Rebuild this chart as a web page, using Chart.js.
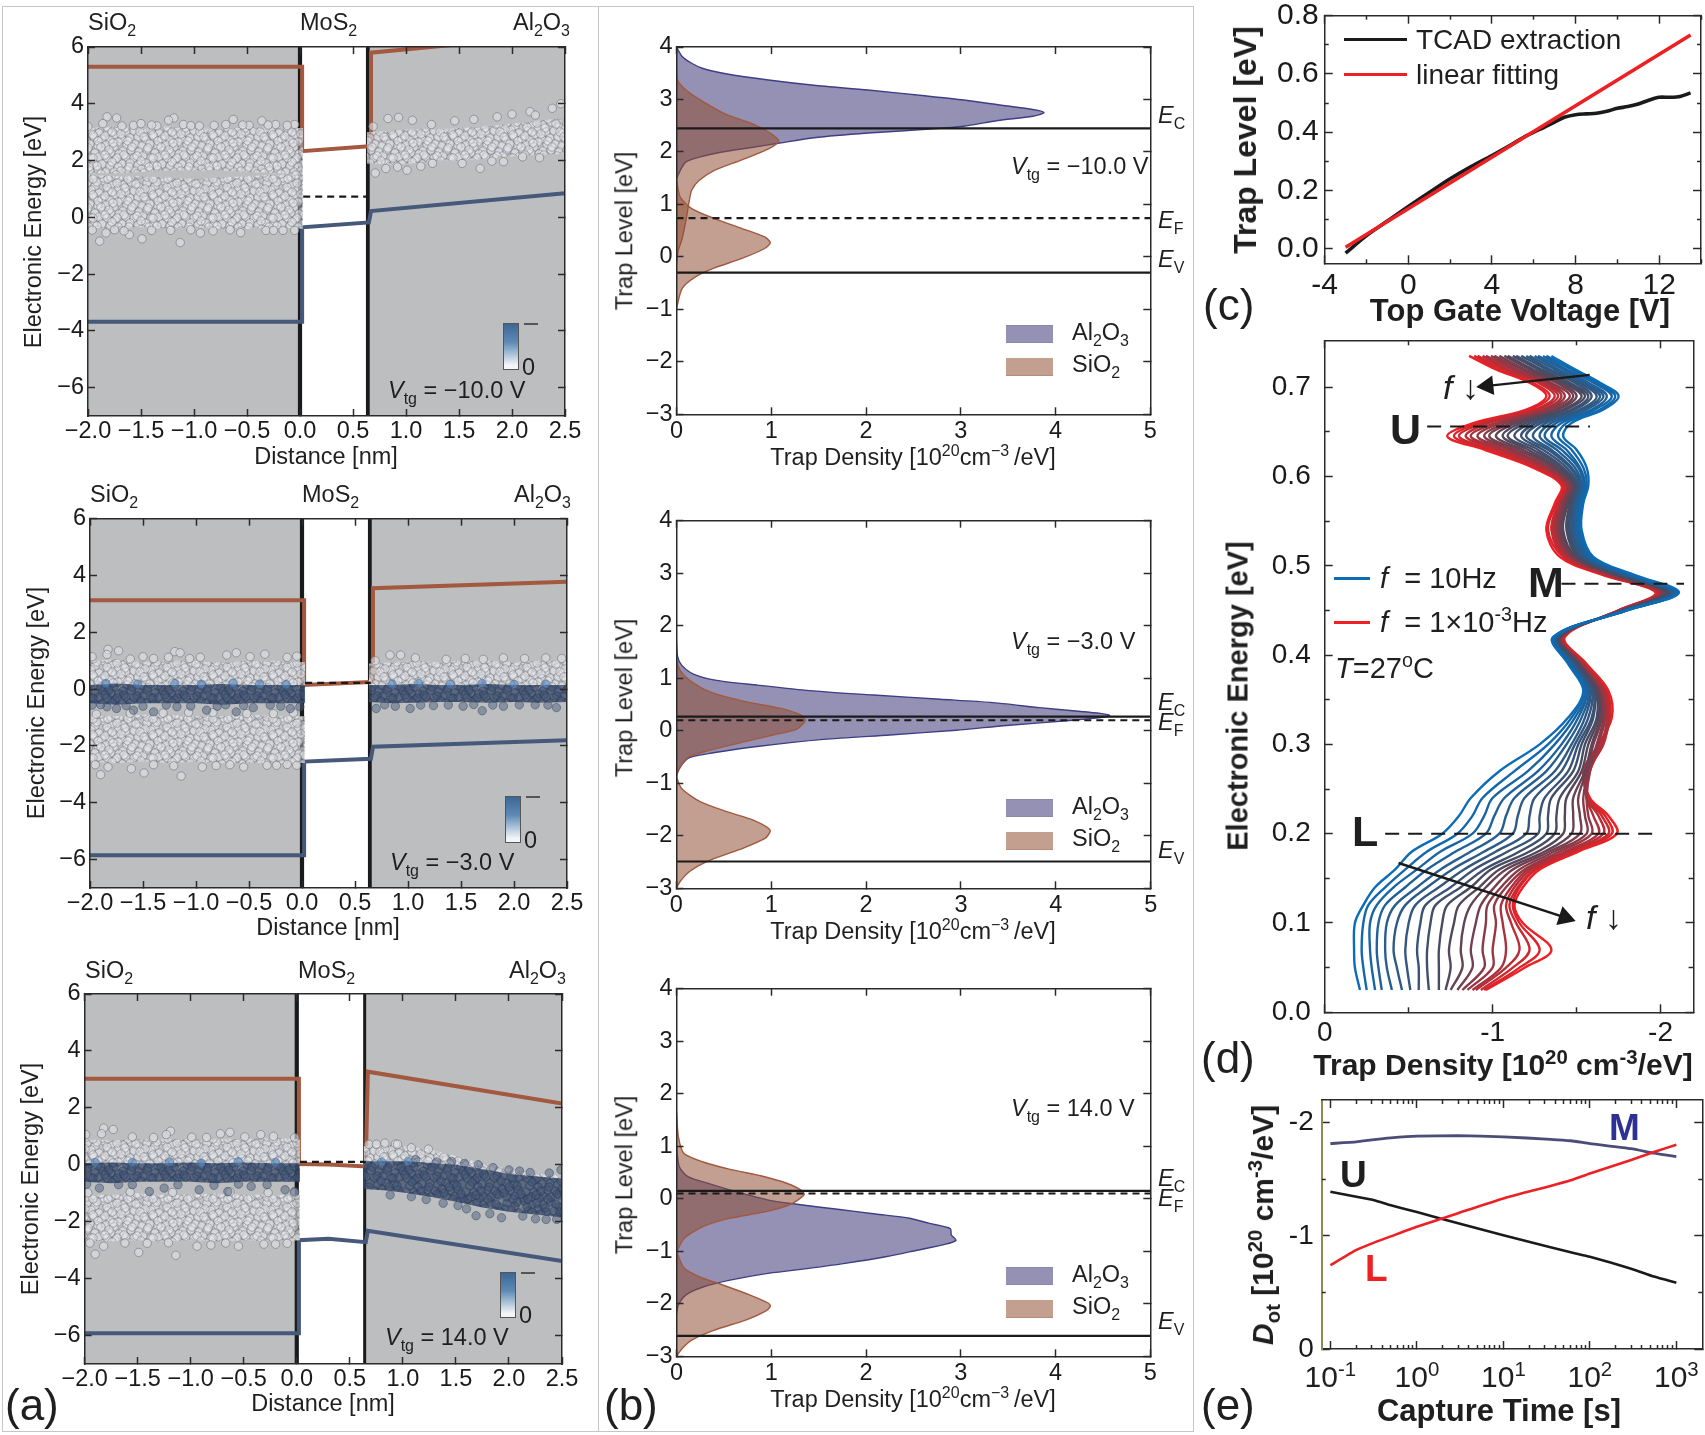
<!DOCTYPE html>
<html>
<head>
<meta charset="utf-8">
<title>MoS2 trap levels</title>
<script src="https://cdn.jsdelivr.net/npm/chart.js@4"></script>
<style>
  html, body { margin: 0; background: #fff; }
  #page { position: relative; width: 1705px; height: 1435px; overflow: hidden; font-family: 'Liberation Sans', sans-serif; color: #1f1f1f; }
  #page canvas { position: absolute; left: 0; top: 0; }
  .txt { position: absolute; line-height: 1; white-space: nowrap; }
  .txt sub, .txt sup { font-size: 68%; line-height: 0; }
  .frame { position: absolute; border: 1px solid #c6c6c6; box-sizing: border-box; }
</style>
</head>
<body>
<div id="page"></div>
<script>
// ---- band diagrams (a): lines are [distance nm, energy eV]
const distanceTicks = [-2, -1.5, -1, -0.5, 0, 0.5, 1, 1.5, 2, 2.5];
const energyTicks = [-6, -4, -2, 0, 2, 4, 6];
const sio2X = [-2, -1.75, -1.5, -1.25, -1, -0.75, -0.5, -0.25, 0.03];
const al2o3X = [0.63, 0.85, 1.05, 1.3, 1.5, 1.75, 2, 2.25, 2.5];

const condA1 = [[-2, 5.3], [0.02, 5.3], [0.02, 2.33], [0.65, 2.5], [0.67, 2.5], [0.67, 5.8], [2.5, 6.45]];
const valA1 = [[-2, -3.68], [0.02, -3.68], [0.02, -0.35], [0.65, -0.18], [0.67, 0.22], [2.5, 0.85]];
const fermiA1 = [[0.03, 0.73], [0.65, 0.73]];
const condA2 = [[-2, 3.13], [0.02, 3.13], [0.02, 0.15], [0.65, 0.25], [0.67, 0.25], [0.67, 3.55], [2.5, 3.78]];
const valA2 = [[-2, -5.85], [0.02, -5.85], [0.02, -2.55], [0.65, -2.45], [0.67, -2.03], [2.5, -1.8]];
const fermiA2 = [[0.03, 0.22], [0.65, 0.22]];
const condA3 = [[-2, 3.02], [0.02, 3.02], [0.02, 0.03], [0.3, 0.01], [0.65, -0.06], [0.67, 3.27], [2.5, 2.15]];
const valA3 = [[-2, -5.92], [0.02, -5.92], [0.02, -2.65], [0.3, -2.6], [0.65, -2.72], [0.67, -2.32], [2.5, -3.38]];
const fermiA3 = [[0.03, 0.1], [0.65, 0.1]];

// trap clouds: upper and lower edge of the dense part, sampled at sio2X / al2o3X
const a1SioUpTop = [3.15, 3.2, 3.1, 3.2, 3.15, 3.1, 3.2, 3.15, 3.15];
const a1SioUpBot = [1.55, 1.55, 1.6, 1.65, 1.65, 1.65, 1.6, 1.55, 1.45];
const a1SioLowTop = [1.5, 1.45, 1.45, 1.4, 1.35, 1.4, 1.45, 1.5, 1.45];
const a1SioLowBot = [-0.35, -0.4, -0.35, -0.4, -0.35, -0.4, -0.4, -0.35, -0.4];
const a1AlTop = [3.0, 3.05, 3.1, 3.1, 3.15, 3.2, 3.3, 3.4, 3.5];
const a1AlBot = [1.9, 1.85, 1.9, 2.0, 2.0, 2.05, 2.15, 2.2, 2.25];

const a2SioUpTop = [1.0, 1.05, 0.95, 1.0, 1.0, 0.95, 1.0, 1.0, 0.95];
const a2SioUpBot = [0.1, 0.1, 0.1, 0.1, 0.1, 0.1, 0.1, 0.1, 0.1];
const a2SioDarkTop = [0.15, 0.2, 0.15, 0.15, 0.15, 0.18, 0.15, 0.15, 0.15];
const a2SioDarkBot = [-0.5, -0.55, -0.5, -0.5, -0.5, -0.55, -0.5, -0.5, -0.5];
const a2SioLowTop = [-0.95, -0.95, -0.9, -0.9, -0.95, -0.95, -0.9, -0.95, -0.95];
const a2SioLowBot = [-2.55, -2.6, -2.55, -2.6, -2.55, -2.6, -2.6, -2.6, -2.6];
const a2AlUpTop = [0.9, 0.95, 1.0, 0.95, 1.0, 1.0, 0.95, 1.0, 1.0];
const a2AlUpBot = [0.1, 0.1, 0.1, 0.1, 0.1, 0.1, 0.1, 0.1, 0.1];
const a2AlDarkTop = [0.15, 0.15, 0.18, 0.15, 0.15, 0.18, 0.15, 0.15, 0.15];
const a2AlDarkBot = [-0.45, -0.5, -0.48, -0.45, -0.45, -0.48, -0.45, -0.48, -0.45];

const a3SioUpTop = [0.9, 0.85, 0.9, 0.9, 0.9, 0.9, 0.9, 0.95, 0.9];
const a3SioUpBot = [0.0, 0.0, 0.0, 0.0, 0.0, 0.0, 0.0, 0.0, 0.0];
const a3SioDarkTop = [0.05, 0.08, 0.05, 0.05, 0.08, 0.05, 0.08, 0.05, 0.05];
const a3SioDarkBot = [-0.6, -0.65, -0.6, -0.6, -0.6, -0.65, -0.6, -0.6, -0.6];
const a3SioLowTop = [-1.05, -1.05, -1.0, -1.05, -1.05, -1.0, -1.05, -1.05, -1.05];
const a3SioLowBot = [-2.65, -2.7, -2.65, -2.7, -2.65, -2.7, -2.65, -2.7, -2.65];
const a3AlUpTop = [0.65, 0.7, 0.65, 0.5, 0.3, 0.05, -0.15, -0.3, -0.4];
const a3AlUpBot = [0.0, 0.05, 0.05, 0.0, -0.1, -0.2, -0.4, -0.45, -0.55];
const a3AlDarkTop = [0.12, 0.12, 0.12, 0.05, 0.0, -0.15, -0.32, -0.4, -0.48];
const a3AlDarkBot = [-0.85, -0.9, -1.0, -1.15, -1.3, -1.5, -1.65, -1.75, -1.85];

// stray traps outside the dense part
const a1LooseDots = [[-1.82, 3.54], [-1.73, 3.5], [-1.19, 3.5], [-1.24, 3.42], [-1.86, 3.3], [-2, 3.2], [-1.57, 3.24], [-1.5, 3.3], [-1.35, 3.22], [-1.1, 3.27], [-0.95, 3.22], [-0.81, 3.24], [-0.63, 3.45], [-0.7, 3.27], [-0.48, 3.24], [-0.36, 3.4], [-0.23, 3.27], [-0.05, 3.27], [-0.12, 3.24], [-0.54, 3.25], [-1.4, 3.25], [-1.68, 3.22], [-1.03, 3.23], [-0.3, 3.25],
  [-1.89, -0.84], [-1.13, -0.89], [-1.49, -0.76], [-1.61, -0.61], [-1.83, -0.55], [-1.66, -0.48], [-1.4, -0.46], [-1.22, -0.46], [-0.94, -0.55], [-0.82, -0.48], [-0.56, -0.54], [-0.32, -0.46], [-0.25, -0.46], [-0.16, -0.46], [-0.05, -0.46], [-1.96, -0.45], [-1.75, -0.44], [-1.03, -0.44], [-0.66, -0.44],
  [0.83, 3.48], [0.93, 3.52], [0.69, 3.2], [1.06, 3.42], [1.24, 3.27], [1.46, 3.4], [1.64, 3.45], [1.86, 3.54], [2.0, 3.63], [2.17, 3.72], [2.38, 3.84], [2.46, 4.0], [2.22, 3.6], [0.71, 1.56], [0.81, 1.72], [1.01, 1.66], [1.25, 1.9], [1.53, 1.9], [1.7, 1.72], [1.92, 1.96], [2.1, 2.13], [2.26, 2.1], [0.92, 1.77], [1.14, 1.8], [1.81, 1.98]];
const a2LooseDots = [[-1.83, 1.4], [-1.73, 1.35], [-1.2, 1.32], [-1.15, 1.28], [-1.84, 1.22], [-1.5, 1.14], [-1.26, 1.12], [-1.98, 1.14], [-0.71, 1.2], [-0.62, 1.28], [-0.35, 1.23], [-0.14, 1.12], [-0.05, 1.16], [-0.96, 1.12], [-0.49, 1.14], [-1.62, 1.06], [-1.4, 1.08], [-1.06, 1.08],
  [-1.07, -0.82], [-1.94, -0.88], [-1.62, -0.85], [-1.31, -0.84], [-0.84, -0.83], [-0.52, -0.86], [-0.27, -0.86], [-0.08, -0.84],
  [-1.9, -3.01], [-1.49, -2.95], [-1.14, -3.06], [-1.61, -2.8], [-0.94, -2.74], [-0.81, -2.69], [-0.55, -2.74], [-1.83, -2.74], [-1.21, -2.7], [-0.33, -2.68], [-0.24, -2.68], [-0.14, -2.65], [-0.05, -2.68], [-1.4, -2.66], [-1.95, -2.66], [-0.68, -2.66],
  [0.83, 1.2], [0.93, 1.2], [0.69, 1.0], [1.07, 1.1], [1.36, 1.05], [1.54, 1.08], [1.71, 1.05], [1.9, 1.1], [2.1, 1.08], [2.3, 1.1], [2.45, 1.08]];
const a2DarkDots = [[-0.9, -0.74], [-1.4, -0.8], [-0.62, -0.8], [-0.11, -0.68], [-1.59, -0.74], [-1.84, -0.62], [-1.18, -0.62], [-0.46, -0.65], [-1.9, -0.55], [-0.8, -0.6], [-0.02, -0.62], [-1.75, -0.68], [-1.98, -0.56], [-1.66, -0.58], [-1.5, -0.6], [-1.28, -0.56], [-1.05, -0.6], [-0.72, -0.55], [-0.55, -0.58], [-0.3, -0.56], [-0.2, -0.6],
  [1.7, -0.76], [0.7, -0.68], [1.02, -0.68], [0.88, -0.6], [1.24, -0.58], [1.52, -0.6], [1.9, -0.6], [2.2, -0.55], [2.4, -0.65], [0.78, -0.55], [1.12, -0.56], [1.38, -0.56], [1.62, -0.54], [1.8, -0.56], [2.05, -0.55], [2.32, -0.56]];
const a2BlueDots = [[-1.85, 0.2], [-1.55, 0.18], [-1.2, 0.2], [-0.95, 0.17], [-0.65, 0.2], [-0.4, 0.18], [-0.15, 0.16], [0.85, 0.18], [1.1, 0.2], [1.4, 0.17], [1.7, 0.2], [2.0, 0.17], [2.3, 0.18]];
const a3LooseDots = [[-1.73, 1.24], [-1.82, 1.29], [-1.19, 1.18], [-1.23, 1.06], [-1.84, 1.09], [-1.55, 0.98], [-0.63, 1.14], [-0.72, 1.09], [-0.34, 1.06], [-0.22, 1.0], [-0.02, 0.95], [-0.99, 0.97], [-1.35, 0.96], [-1.99, 1.06], [-0.49, 0.98], [-0.85, 0.96],
  [-1.9, -3.14], [-1.49, -3.08], [-1.14, -3.18], [-1.82, -2.86], [-1.62, -2.75], [-0.94, -2.86], [-0.81, -2.82], [-0.55, -2.86], [-0.31, -2.79], [-0.2, -2.79], [-0.09, -2.76], [-1.21, -2.74], [-1.95, -2.75], [-1.41, -2.76], [-0.67, -2.75],
  [-1.97, -0.98], [-1.57, -0.96], [-1.17, -0.97], [-0.63, -0.95], [-0.27, -0.98], [-0.02, -0.98],
  [0.83, 0.76], [0.93, 0.73], [0.68, 0.72], [1.08, 0.6], [0.95, 0.72], [1.24, 0.55], [0.75, 0.72]];
const a3DarkDots = [[-0.65, -0.94], [-1.39, -0.94], [-0.11, -0.88], [-1.86, -0.82], [-0.92, -0.88], [-1.25, -0.82], [-0.43, -0.76], [-1.68, -0.7], [-0.02, -0.94], [-1.98, -0.68], [-1.55, -0.7], [-1.12, -0.7], [-0.78, -0.72], [-0.55, -0.68], [-0.28, -0.7],
  [1.69, -1.79], [1.93, -1.86], [2.13, -1.8], [2.25, -1.9], [1.52, -1.43], [1.22, -1.22], [0.88, -1.06], [2.45, -1.92], [2, -0.18], [2.2, -0.27], [2.38, -0.29], [1.71, 0.0], [1.46, 0.12], [2.49, -0.18], [1.08, -1.12], [1.38, -1.35], [1.6, -1.55], [1.82, -1.72], [2.35, -1.92], [1.12, 0.18], [1.32, 0.1], [1.58, 0.05], [1.85, -0.1], [2.1, -0.22]];
const a3BlueDots = [[-1.9, 0.08], [-1.55, 0.08], [-1.2, 0.1], [-0.9, 0.06], [-0.55, 0.1], [-0.2, 0.08], [0.8, 0.1], [1.05, 0.12]];

// ---- trap densities (b): [density 1e20, level eV], top to bottom
const densityTicks = [0, 1, 2, 3, 4, 5];
const levelTicks = [-3, -2, -1, 0, 1, 2, 3, 4];
const b1Al = [[0, 4], [0.06, 3.82], [0.16, 3.69], [0.28, 3.59], [0.52, 3.49], [0.97, 3.37], [1.45, 3.27], [2.02, 3.18], [2.62, 3.07], [3.03, 2.99], [3.43, 2.89], [3.76, 2.81], [3.88, 2.75], [3.76, 2.68], [3.39, 2.6], [3.03, 2.49], [2.71, 2.44], [2.02, 2.36], [1.45, 2.27], [1.09, 2.17], [0.81, 2.09], [0.48, 2.0], [0.24, 1.9], [0.1, 1.81], [0.04, 1.65], [0, 1.49]];
const b1SioUp = [[0, 3.6], [0.01, 3.37], [0.1, 3.18], [0.28, 2.96], [0.52, 2.72], [0.81, 2.53], [0.97, 2.38], [1.08, 2.21], [0.97, 2.06], [0.69, 1.85], [0.4, 1.65], [0.24, 1.46], [0.16, 1.27], [0.13, 1.02], [0.1, 0.7], [0.06, 0.35], [0.02, 0.13], [0, -0.13]];
const b1SioLow = [[0, 1.46], [0.04, 1.14], [0.16, 0.92], [0.4, 0.73], [0.69, 0.54], [0.93, 0.38], [0.99, 0.27], [0.93, 0.16], [0.69, -0.03], [0.4, -0.21], [0.2, -0.38], [0.06, -0.6], [0, -0.98]];
const b1Levels = { ec: 2.45, ef: 0.74, ev: -0.3 };
const b2Al = [[0, 1.75], [0.014, 1.41], [0.056, 1.25], [0.18, 1.08], [0.425, 0.96], [0.85, 0.87], [1.44, 0.76], [2.08, 0.68], [2.78, 0.6], [3.31, 0.54], [3.83, 0.44], [4.18, 0.38], [4.47, 0.33], [4.57, 0.29], [4.47, 0.25], [4.18, 0.2], [3.48, 0.1], [2.95, 0.01], [2.25, -0.08], [1.55, -0.165], [0.85, -0.3], [0.39, -0.42], [0.14, -0.51], [0.056, -0.65], [0.01, -0.81], [0, -0.91]];
const b2SioUp = [[0, 1.35], [0.04, 1.15], [0.14, 0.96], [0.355, 0.74], [0.74, 0.55], [1.09, 0.43], [1.3, 0.31], [1.36, 0.2], [1.27, 0.03], [1.02, -0.08], [0.67, -0.23], [0.355, -0.37], [0.14, -0.49], [0.056, -0.65], [0, -0.84]];
const b2SioLow = [[0, -0.88], [0.056, -1.1], [0.25, -1.35], [0.53, -1.54], [0.81, -1.7], [0.95, -1.83], [0.99, -1.91], [0.935, -2.05], [0.67, -2.26], [0.32, -2.49], [0.14, -2.68], [0.04, -2.87], [0, -3]];
const b2Levels = { ec: 0.27, ef: 0.2, ev: -2.49 };
const b3Al = [[0, 0.99], [0.03, 0.61], [0.12, 0.42], [0.36, 0.28], [0.61, 0.146], [0.97, -0.025], [1.29, -0.11], [1.7, -0.2], [2.1, -0.29], [2.46, -0.37], [2.67, -0.47], [2.89, -0.57], [2.9, -0.69], [2.95, -0.79], [2.83, -0.87], [2.54, -0.98], [2.22, -1.1], [1.78, -1.23], [1.29, -1.35], [0.93, -1.43], [0.565, -1.55], [0.28, -1.68], [0.1, -1.83], [0.02, -2.02], [0, -2.18]];
const b3SioUp = [[0, 1.66], [0.02, 1.18], [0.08, 0.86], [0.28, 0.7], [0.565, 0.56], [0.93, 0.42], [1.17, 0.29], [1.33, 0.146], [1.345, 0.07], [1.21, -0.1], [0.93, -0.25], [0.565, -0.37], [0.28, -0.53], [0.08, -0.755], [0.01, -0.98], [0, -1.04]];
const b3SioLow = [[0, -1.0], [0.08, -1.32], [0.24, -1.485], [0.485, -1.64], [0.77, -1.83], [0.97, -1.99], [0.99, -2.05], [0.93, -2.15], [0.73, -2.31], [0.4, -2.5], [0.16, -2.69], [0.06, -2.85], [0, -3]];
const b3Levels = { ec: 0.15, ef: 0.1, ev: -2.61 };

// ---- trap level vs gate voltage (c)
const voltageMajor = [-4, 0, 4, 8, 12];
const voltageMinor = [-2, 2, 6, 10, 14];
const trapMajor = [0, 0.2, 0.4, 0.6, 0.8];
const trapMinor = [0.1, 0.3, 0.5, 0.7];
const tcadVoltage = [-3, -2, -1, 0, 1, 2, 3, 4, 5, 5.5, 6, 6.5, 7, 7.5, 8, 8.5, 9, 9.5, 10, 10.5, 11, 11.5, 12, 12.5, 13, 13.5];
const tcadLevel = [-0.015, 0.045, 0.095, 0.145, 0.193, 0.24, 0.282, 0.32, 0.36, 0.382, 0.4, 0.417, 0.435, 0.452, 0.46, 0.463, 0.465, 0.472, 0.482, 0.488, 0.497, 0.51, 0.52, 0.52, 0.523, 0.535];
const fitVoltage = [-3, 13.5];
const fitLevel = [0.005, 0.734];

// ---- density spectra per frequency (d): one row per energy level, curves go 10 Hz -> 1e-3 Hz
const spectraEnergy = [0.735, 0.72, 0.705, 0.69, 0.675, 0.66, 0.645, 0.63, 0.61, 0.59, 0.57, 0.54, 0.51, 0.49, 0.47, 0.45, 0.42, 0.39, 0.36, 0.33, 0.3, 0.27, 0.24, 0.22, 0.2, 0.18, 0.16, 0.14, 0.12, 0.1, 0.07, 0.05, 0.025];
const spectraRows = [
  [-1.35, -1.32, -1.30, -1.27, -1.25, -1.22, -1.20, -1.17, -1.14, -1.12, -1.09, -1.07, -1.04, -1.01, -0.99, -0.96, -0.94, -0.91, -0.89, -0.86],
  [-1.49, -1.47, -1.44, -1.42, -1.39, -1.37, -1.34, -1.32, -1.29, -1.27, -1.24, -1.22, -1.19, -1.17, -1.14, -1.12, -1.09, -1.07, -1.04, -1.02],
  [-1.64, -1.62, -1.60, -1.57, -1.55, -1.53, -1.51, -1.49, -1.46, -1.44, -1.42, -1.40, -1.38, -1.35, -1.33, -1.31, -1.29, -1.27, -1.24, -1.22],
  [-1.75, -1.73, -1.71, -1.68, -1.66, -1.64, -1.62, -1.59, -1.57, -1.55, -1.53, -1.50, -1.48, -1.46, -1.43, -1.41, -1.39, -1.37, -1.34, -1.32],
  [-1.66, -1.64, -1.61, -1.59, -1.56, -1.54, -1.52, -1.49, -1.47, -1.44, -1.42, -1.39, -1.37, -1.34, -1.32, -1.30, -1.27, -1.25, -1.22, -1.20],
  [-1.47, -1.44, -1.41, -1.38, -1.35, -1.32, -1.29, -1.26, -1.23, -1.20, -1.17, -1.14, -1.11, -1.08, -1.05, -1.02, -0.98, -0.95, -0.92, -0.89],
  [-1.42, -1.39, -1.35, -1.31, -1.28, -1.24, -1.20, -1.17, -1.13, -1.09, -1.06, -1.02, -0.98, -0.95, -0.91, -0.87, -0.84, -0.80, -0.77, -0.73],
  [-1.50, -1.47, -1.44, -1.41, -1.38, -1.35, -1.33, -1.30, -1.27, -1.24, -1.21, -1.18, -1.15, -1.12, -1.10, -1.07, -1.04, -1.01, -0.98, -0.95],
  [-1.56, -1.54, -1.52, -1.51, -1.49, -1.47, -1.46, -1.44, -1.42, -1.41, -1.39, -1.37, -1.36, -1.34, -1.32, -1.31, -1.29, -1.27, -1.26, -1.24],
  [-1.57, -1.56, -1.55, -1.54, -1.53, -1.53, -1.52, -1.51, -1.50, -1.49, -1.49, -1.48, -1.47, -1.46, -1.45, -1.45, -1.44, -1.43, -1.42, -1.41],
  [-1.54, -1.53, -1.52, -1.51, -1.50, -1.50, -1.49, -1.48, -1.47, -1.46, -1.45, -1.44, -1.43, -1.42, -1.41, -1.41, -1.40, -1.39, -1.38, -1.37],
  [-1.53, -1.52, -1.51, -1.50, -1.49, -1.48, -1.47, -1.46, -1.45, -1.44, -1.42, -1.41, -1.40, -1.39, -1.38, -1.37, -1.36, -1.35, -1.33, -1.32],
  [-1.60, -1.59, -1.58, -1.57, -1.56, -1.55, -1.54, -1.53, -1.52, -1.51, -1.50, -1.49, -1.48, -1.47, -1.46, -1.45, -1.44, -1.43, -1.42, -1.40],
  [-1.84, -1.83, -1.82, -1.81, -1.80, -1.79, -1.78, -1.77, -1.76, -1.75, -1.74, -1.73, -1.72, -1.71, -1.70, -1.69, -1.68, -1.67, -1.66, -1.65],
  [-2.11, -2.10, -2.10, -2.09, -2.08, -2.07, -2.07, -2.06, -2.05, -2.04, -2.04, -2.03, -2.02, -2.01, -2.01, -2.00, -1.99, -1.98, -1.98, -1.97],
  [-1.80, -1.80, -1.80, -1.79, -1.79, -1.79, -1.78, -1.78, -1.78, -1.78, -1.77, -1.77, -1.77, -1.77, -1.76, -1.76, -1.76, -1.75, -1.75, -1.75],
  [-1.36, -1.36, -1.37, -1.37, -1.37, -1.38, -1.38, -1.38, -1.39, -1.39, -1.40, -1.40, -1.40, -1.41, -1.41, -1.41, -1.42, -1.42, -1.42, -1.43],
  [-1.45, -1.46, -1.46, -1.47, -1.47, -1.48, -1.48, -1.49, -1.50, -1.50, -1.51, -1.51, -1.52, -1.52, -1.53, -1.54, -1.54, -1.55, -1.55, -1.56],
  [-1.54, -1.55, -1.56, -1.56, -1.57, -1.58, -1.59, -1.60, -1.60, -1.61, -1.62, -1.63, -1.63, -1.64, -1.65, -1.66, -1.67, -1.67, -1.68, -1.69],
  [-1.45, -1.47, -1.49, -1.51, -1.53, -1.55, -1.57, -1.59, -1.60, -1.62, -1.63, -1.64, -1.65, -1.66, -1.67, -1.68, -1.69, -1.70, -1.70, -1.71],
  [-1.28, -1.33, -1.37, -1.41, -1.44, -1.47, -1.49, -1.51, -1.53, -1.55, -1.57, -1.59, -1.60, -1.62, -1.63, -1.65, -1.66, -1.65, -1.64, -1.63],
  [-1.04, -1.13, -1.21, -1.27, -1.32, -1.37, -1.41, -1.45, -1.48, -1.51, -1.53, -1.55, -1.56, -1.57, -1.58, -1.58, -1.57, -1.56, -1.55, -1.54],
  [-0.87, -0.94, -1.00, -1.07, -1.13, -1.19, -1.25, -1.31, -1.35, -1.40, -1.44, -1.48, -1.51, -1.54, -1.56, -1.56, -1.56, -1.57, -1.57, -1.58],
  [-0.80, -0.88, -0.95, -1.01, -1.08, -1.15, -1.22, -1.28, -1.33, -1.38, -1.43, -1.48, -1.52, -1.55, -1.57, -1.60, -1.63, -1.65, -1.67, -1.69],
  [-0.70, -0.79, -0.88, -0.96, -1.04, -1.12, -1.20, -1.27, -1.32, -1.37, -1.42, -1.47, -1.52, -1.56, -1.59, -1.63, -1.66, -1.69, -1.71, -1.74],
  [-0.52, -0.61, -0.69, -0.78, -0.87, -0.95, -1.02, -1.09, -1.16, -1.22, -1.27, -1.31, -1.34, -1.37, -1.40, -1.43, -1.45, -1.47, -1.49, -1.51],
  [-0.42, -0.48, -0.55, -0.61, -0.69, -0.76, -0.83, -0.89, -0.95, -0.99, -1.04, -1.08, -1.12, -1.16, -1.19, -1.21, -1.23, -1.25, -1.26, -1.28],
  [-0.30, -0.36, -0.41, -0.48, -0.55, -0.61, -0.68, -0.75, -0.81, -0.87, -0.92, -0.96, -1.01, -1.05, -1.08, -1.11, -1.13, -1.15, -1.16, -1.18],
  [-0.23, -0.26, -0.31, -0.36, -0.42, -0.48, -0.54, -0.60, -0.66, -0.73, -0.80, -0.87, -0.93, -0.97, -1.01, -1.05, -1.08, -1.10, -1.12, -1.13],
  [-0.18, -0.23, -0.27, -0.32, -0.37, -0.43, -0.50, -0.57, -0.63, -0.70, -0.77, -0.83, -0.90, -0.96, -1.02, -1.06, -1.11, -1.14, -1.16, -1.18],
  [-0.175, -0.22, -0.27, -0.31, -0.36, -0.41, -0.48, -0.55, -0.61, -0.68, -0.74, -0.81, -0.87, -0.94, -1.00, -1.08, -1.16, -1.22, -1.28, -1.35],
  [-0.18, -0.23, -0.28, -0.32, -0.37, -0.43, -0.49, -0.56, -0.61, -0.68, -0.75, -0.82, -0.88, -0.95, -1.00, -1.05, -1.08, -1.12, -1.16, -1.19],
  [-0.21, -0.25, -0.30, -0.34, -0.40, -0.46, -0.51, -0.56, -0.62, -0.68, -0.72, -0.75, -0.79, -0.82, -0.85, -0.88, -0.90, -0.93, -0.95, -0.96],
];
const spectraXMajor = [-2, -1, 0];
const spectraXMinor = [-1.5, -0.5];
const spectraYMajor = [0, 0.1, 0.2, 0.3, 0.4, 0.5, 0.6, 0.7];
const spectraYMinor = [0.05, 0.15, 0.25, 0.35, 0.45, 0.55, 0.65];
const levelU = [[-0.61, 0.656], [-1.58, 0.656]];
const levelM = [[-1.41, 0.48], [-2.14, 0.48]];
const levelL = [[-0.36, 0.2], [-1.97, 0.2]];
const arrowTop = [[-1.578, 0.7138], [-0.97, 0.7015]];
const arrowBottom = [[-0.44, 0.1672], [-1.43, 0.1062]];

// ---- capture time (e)
const captureTime = [0.1, 0.2, 0.32, 0.5, 1, 3, 10, 35, 60, 100, 300, 550, 1000];
const dotU = [-1.39, -1.345, -1.315, -1.27, -1.21, -1.11, -1.005, -0.9, -0.855, -0.815, -0.71, -0.64, -0.585];
const dotM = [-1.815, -1.83, -1.85, -1.865, -1.88, -1.885, -1.875, -1.853, -1.84, -1.815, -1.77, -1.73, -1.7];
const dotL = [-0.74, -0.875, -0.94, -0.995, -1.08, -1.2, -1.33, -1.44, -1.49, -1.55, -1.67, -1.74, -1.805];
const timeDecades = [0.1, 1, 10, 100, 1000];
const timeMinor = [0.2, 0.3, 0.4, 0.5, 0.6, 0.7, 0.8, 0.9, 2, 3, 4, 5, 6, 7, 8, 9, 20, 30, 40, 50, 60, 70, 80, 90, 200, 300, 400, 500, 600, 700, 800, 900];
const dotMajor = [0, -1, -2];
const dotMinor = [-0.5, -1.5];

// offsets of the bubbles in the repeating cloud texture
const textureDots = [[3, 5], [11, 2], [19, 7], [27, 3], [35, 6], [44, 1], [52, 5], [58, 9], [6, 12], [14, 11], [23, 13], [31, 10], [39, 13], [48, 11], [55, 15], [2, 19], [10, 18], [18, 17], [26, 20], [34, 17], [42, 19], [50, 20], [58, 22], [7, 25], [15, 24], [22, 26], [30, 24], [38, 26], [46, 25], [54, 27], [3, 31], [11, 30], [19, 32], [27, 30], [35, 33], [43, 31], [51, 33], [59, 34], [6, 37], [14, 38], [23, 36], [31, 38], [39, 37], [47, 38], [55, 40], [2, 44], [10, 43], [18, 45], [26, 43], [34, 44], [42, 44], [50, 46], [58, 47], [7, 50], [15, 51], [22, 49], [30, 51], [38, 50], [46, 52], [54, 52], [3, 56], [11, 57], [19, 55], [27, 57], [35, 56], [43, 58], [51, 57], [59, 58],
  [5, 8], [16, 4], [25, 9], [37, 2], [47, 7], [57, 3], [1, 14], [20, 12], [33, 15], [45, 16], [52, 12], [8, 21], [24, 17], [38, 21], [53, 23], [12, 27], [28, 28], [41, 27], [49, 30], [4, 35], [17, 36], [33, 38], [45, 35], [57, 38], [9, 47], [21, 41], [37, 46], [52, 42], [1, 51], [17, 54], [29, 47], [41, 54], [56, 55], [8, 59], [24, 53], [48, 59], [33, 59]];

const PAGE_W = 1705, PAGE_H = 1435;
const FONT = "'Liberation Sans', sans-serif";
const BROWN = '#a3593f', SLATE = '#46597a', INK = '#1a1a1a';
const page = document.getElementById('page');
const pts = a => a.map(([x, y]) => ({ x, y }));
const zip = (xs, ys) => xs.map((x, i) => ({ x, y: ys[i] }));
const minusLabel = d => v => (d ? v.toFixed(d) : String(v)).replace('-', '\u2212');
const plainLabel = d => v => (d ? v.toFixed(d) : String(v));

function text(html, x, y, o = {}) {
  const el = document.createElement('div');
  el.className = 'txt';
  el.innerHTML = html;
  el.style.left = x + 'px';
  el.style.top = y + 'px';
  el.style.fontSize = (o.size || 23.5) + 'px';
  if (o.bold) el.style.fontWeight = 'bold';
  if (o.color) el.style.color = o.color;
  const ax = o.anchor === 'c' ? '-50%' : o.anchor === 'r' ? '-100%' : '0';
  el.style.transform = `translate(${ax},-50%)` + (o.rotate ? ` rotate(${o.rotate}deg)` : '');
  page.appendChild(el);
}

function rect(x, y, w, h, style) {
  const el = document.createElement('div');
  el.style.cssText = `position:absolute;left:${x}px;top:${y}px;width:${w}px;height:${h}px;` + style;
  page.appendChild(el);
}

function sideScale(axis, position, range, values, len, o) {
  return {
    type: range.type || 'linear', axis, position,
    min: range.min, max: range.max, reverse: !!range.reverse, weight: o.weight || 0,
    afterBuildTicks: s => { s.ticks = values.map(value => ({ value })); },
    afterFit: s => {
      if (axis === 'x') s.height = o.gutter || 0; else s.width = o.gutter || 0;
      s.paddingLeft = s.paddingRight = s.paddingTop = s.paddingBottom = 0;
    },
    grid: { drawOnChartArea: false, tickLength: -len, tickColor: '#2a2a2a', tickWidth: 1.5, z: 1 },
    border: { display: o.border !== false, color: o.borderColor || '#2a2a2a', width: o.borderWidth || 1.5, z: 1 },
    ticks: {
      display: !!o.label, autoSkip: false, maxRotation: 0, minRotation: 0,
      padding: (o.gap || 0) + len, z: 1, color: INK, callback: o.label || (() => ''),
      font: { family: FONT, size: o.size || 23 },
    },
  };
}

// four-sided frame with inward ticks, optional shorter minor ticks
function frameScales(box, xr, yr, o) {
  const gut = 90, len = o.len || 7, mlen = o.minorLen || 4;
  const scales = {
    x: sideScale('x', 'bottom', xr, xr.major, len, { gutter: gut, label: xr.label, gap: o.gapX, size: o.size, weight: 1, borderWidth: o.borderWidth }),
    y: sideScale('y', 'left', yr, yr.major, len, { gutter: gut, label: yr.label, gap: o.gapY, size: o.size, weight: 1, borderColor: o.leftColor, borderWidth: o.leftWidth || o.borderWidth }),
    xTop: sideScale('x', 'top', xr, xr.major, len, { borderWidth: o.borderWidth }),
    yRight: sideScale('y', 'right', yr, yr.major, len, { borderWidth: o.borderWidth }),
  };
  if (xr.minor) {
    scales.xMinor = sideScale('x', 'bottom', xr, xr.minor, mlen, { weight: -1, border: false });
    scales.xTopMinor = sideScale('x', 'top', xr, xr.minor, mlen, { weight: -1, border: false });
  }
  if (yr.minor) {
    scales.yMinor = sideScale('y', 'left', yr, yr.minor, mlen, { weight: -1, border: false });
    scales.yRightMinor = sideScale('y', 'right', yr, yr.minor, mlen, { weight: -1, border: false });
  }
  return { scales, padding: { left: box.l - gut, right: PAGE_W - box.r, top: box.t, bottom: PAGE_H - box.b - gut } };
}

function plot(box, xr, yr, o, datasets) {
  const canvas = document.createElement('canvas');
  canvas.width = PAGE_W;
  canvas.height = PAGE_H;
  page.appendChild(canvas);
  const { scales, padding } = frameScales(box, xr, yr, o);
  // later entries paint on top
  datasets.forEach((d, i) => { d.order = datasets.length - i; });
  return new Chart(canvas, {
    type: 'line',
    data: { datasets },
    options: {
      responsive: false, animation: false, devicePixelRatio: 1, indexAxis: o.indexAxis || 'x',
      layout: { padding }, scales,
      plugins: { legend: { display: false }, tooltip: { enabled: false } },
      elements: { point: { radius: 0 }, line: { borderCapStyle: 'butt', borderJoinStyle: 'miter' } },
    },
  });
}

const line = (data, color, width, extra = {}) => ({ data: pts(data), borderColor: color, borderWidth: width, fill: false, pointRadius: 0, ...extra });

function bubbleTexture(fill, stroke, base) {
  const tile = document.createElement('canvas');
  tile.width = tile.height = 60;
  const c = tile.getContext('2d');
  if (base) { c.fillStyle = base; c.fillRect(0, 0, 60, 60); }
  c.fillStyle = fill;
  c.strokeStyle = stroke;
  c.lineWidth = 0.8;
  for (const [dx, dy] of textureDots) {
    for (const ox of [-60, 0, 60]) for (const oy of [-60, 0, 60]) {
      c.beginPath();
      c.arc(dx + ox, dy + oy, 4.2, 0, Math.PI * 2);
      c.fill();
      c.stroke();
    }
  }
  return c.createPattern(tile, 'repeat');
}
const lightBubbles = bubbleTexture('rgba(232,234,238,0.5)', 'rgba(100,102,108,0.6)', 'rgba(205,207,211,0.45)');
const darkBubbles = bubbleTexture('rgba(62,84,118,0.55)', 'rgba(38,46,66,0.55)', 'rgba(66,82,110,0.55)');

function cloud(xs, top, bottom, texture) {
  return [
    { data: zip(xs, top), borderWidth: 0, borderColor: 'transparent', pointRadius: 0, fill: '+1', backgroundColor: texture },
    { data: zip(xs, bottom), borderWidth: 0, borderColor: 'transparent', pointRadius: 0, fill: false },
  ];
}
const dots = (data, fill, edge) => ({ data: pts(data), showLine: false, pointRadius: 4.2, pointBackgroundColor: fill, pointBorderColor: edge, pointBorderWidth: 0.8 });
const looseDots = data => dots(data, 'rgba(224,226,230,0.6)', 'rgba(110,112,118,0.75)');
const darkDots = data => dots(data, 'rgba(78,98,130,0.5)', 'rgba(55,65,85,0.6)');
const blueDots = data => dots(data, 'rgba(84,132,186,0.6)', 'rgba(60,90,130,0.5)');

const rangeAx = { major: distanceTicks, min: -2, max: 2.5, label: minusLabel(1) };
const rangeAy = { min: -7, max: 6, major: energyTicks, label: minusLabel(0) };
const styleA = { gapX: 1, gapY: 4, size: 23.5, len: 7 };

function bandPanel(box, cond, val, fermi, clouds, wallWidths) {
  const background = [
    { data: pts([[-2, 6], [2.5, 6]]), borderWidth: 0, borderColor: 'transparent', pointRadius: 0, fill: 'start', backgroundColor: '#bdbec0' },
    { data: pts([[0, 6], [0.64, 6]]), borderWidth: 0, borderColor: 'transparent', pointRadius: 0, fill: 'start', backgroundColor: '#fff' },
    line([[0, -7], [0, 6]], INK, wallWidths[0]),
    line([[0.64, -7], [0.64, 6]], INK, wallWidths[1]),
    line(cond, BROWN, 4),
    line(val, SLATE, 4),
  ];
  plot(box, rangeAx, rangeAy, styleA, [...background, ...clouds, line(fermi, INK, 2.4, { borderDash: [7, 5] })]);
}

function bandLabels(o) {
  text('SiO<sub>2</sub>', o.sio, o.headY);
  text('MoS<sub>2</sub>', o.mos, o.headY);
  text('Al<sub>2</sub>O<sub>3</sub>', o.al, o.headY);
  text(o.vtg, o.vtgX, o.vtgY);
  text('Distance [nm]', o.titleX, o.titleY, { anchor: 'c' });
  text('Electronic Energy [eV]', o.yTitleX, o.yTitleY, { anchor: 'c', rotate: -90 });
  // colour key for trap occupancy
  rect(o.barX, o.barY, 16, o.barH, 'box-sizing:border-box;border:1.5px solid #555;background:linear-gradient(#3d6795,#5c8ab5 40%,#f4f5f8 92%);');
  rect(o.barX + 21, o.barY, 14, 1.5, 'background:#555;');
  text('0', o.barX + 19, o.barY + o.barH - 2, { size: 23.5 });
}

// (a) band diagrams
bandPanel({ l: 88, r: 565, t: 47, b: 416 }, condA1, valA1, fermiA1, [
  ...cloud(sio2X, a1SioUpTop, a1SioUpBot, lightBubbles),
  ...cloud(sio2X, a1SioLowTop, a1SioLowBot, lightBubbles),
  ...cloud(al2o3X, a1AlTop, a1AlBot, lightBubbles),
  looseDots(a1LooseDots),
], [4.2, 3.8]);
bandPanel({ l: 90, r: 567, t: 518.7, b: 888 }, condA2, valA2, fermiA2, [
  ...cloud(sio2X, a2SioUpTop, a2SioUpBot, lightBubbles),
  ...cloud(sio2X, a2SioLowTop, a2SioLowBot, lightBubbles),
  ...cloud(al2o3X, a2AlUpTop, a2AlUpBot, lightBubbles),
  looseDots(a2LooseDots),
  darkDots(a2DarkDots),
  ...cloud(sio2X, a2SioDarkTop, a2SioDarkBot, darkBubbles),
  ...cloud(al2o3X, a2AlDarkTop, a2AlDarkBot, darkBubbles),
  blueDots(a2BlueDots),
], [4.2, 3.8]);
bandPanel({ l: 84.6, r: 562, t: 994, b: 1364 }, condA3, valA3, fermiA3, [
  ...cloud(sio2X, a3SioUpTop, a3SioUpBot, lightBubbles),
  ...cloud(sio2X, a3SioLowTop, a3SioLowBot, lightBubbles),
  ...cloud(al2o3X, a3AlUpTop, a3AlUpBot, lightBubbles),
  looseDots(a3LooseDots),
  darkDots(a3DarkDots),
  ...cloud(sio2X, a3SioDarkTop, a3SioDarkBot, darkBubbles),
  ...cloud(al2o3X, a3AlDarkTop, a3AlDarkBot, darkBubbles),
  blueDots(a3BlueDots),
], [4.2, 3]);

bandLabels({ sio: 88, mos: 300, al: 513, headY: 23, vtg: '<i>V</i><sub>tg</sub> = \u221210.0 V', vtgX: 388, vtgY: 391, titleX: 326, titleY: 457, yTitleX: 34, yTitleY: 232, barX: 503, barY: 323, barH: 47 });
bandLabels({ sio: 90, mos: 302, al: 514, headY: 495, vtg: '<i>V</i><sub>tg</sub> = \u22123.0 V', vtgX: 390, vtgY: 863, titleX: 328, titleY: 928, yTitleX: 37, yTitleY: 703, barX: 505, barY: 796, barH: 47 });
bandLabels({ sio: 85, mos: 298, al: 509, headY: 971, vtg: '<i>V</i><sub>tg</sub> = 14.0 V', vtgX: 385, vtgY: 1338, titleX: 323, titleY: 1404, yTitleX: 31, yTitleY: 1179, barX: 500, barY: 1272, barH: 46 });

// (b) trap densities, filled towards zero density
const AL_FILL = 'rgba(70,65,125,0.58)', AL_EDGE = '#3e3e86';
const SIO_FILL = 'rgba(145,80,55,0.55)', SIO_EDGE = '#a2593f';
const densityRange = { min: 0, max: 5, major: densityTicks, label: minusLabel(0) };
const levelRange = { min: -3, max: 4, major: levelTicks, label: minusLabel(0) };
const styleB = { gapX: 3, gapY: 4, size: 23.5, len: 7, indexAxis: 'y' };
const filled = (data, fill, edge) => ({ data: pts(data), backgroundColor: fill, borderColor: edge, borderWidth: 1.4, pointRadius: 0, tension: 0.25, fill: { value: 0 } });

function densityPanel(box, al, up, low, lv, o) {
  plot(box, densityRange, levelRange, styleB, [
    filled(al, AL_FILL, AL_EDGE),
    filled(up, SIO_FILL, SIO_EDGE),
    filled(low, SIO_FILL, SIO_EDGE),
    line([[0, lv.ec], [5, lv.ec]], INK, 2.4),
    line([[0, lv.ef], [5, lv.ef]], INK, 2.2, { borderDash: [7, 5] }),
    line([[0, lv.ev], [5, lv.ev]], INK, 2.2),
  ]);
  text('Trap Density [10<sup>20</sup>cm<sup>\u22123</sup>\u2009/eV]', 913, o.titleY, { anchor: 'c' });
  text('Trap Level [eV]', o.yTitleX, o.yTitleY, { anchor: 'c', rotate: -90 });
  text(o.vtg, 1011, o.vtgY);
  text('<i>E</i><sub>C</sub>', 1158, o.ec);
  text('<i>E</i><sub>F</sub>', 1158, o.ef);
  text('<i>E</i><sub>V</sub>', 1158, o.ev);
  rect(1006, o.legY, 47, 18, 'background:#9491b4;border-top:1px solid #8a88ad;border-bottom:1px solid #8a88ad;box-sizing:border-box;');
  rect(1006, o.legY + 33, 47, 18, 'background:#c39f90;border-bottom:1px solid #b98a78;box-sizing:border-box;');
  text('Al<sub>2</sub>O<sub>3</sub>', 1072, o.legY + 8);
  text('SiO<sub>2</sub>', 1072, o.legY + 40);
}

densityPanel({ l: 676.5, r: 1150.3, t: 47, b: 414.3 }, b1Al, b1SioUp, b1SioLow, b1Levels,
  { titleY: 458, yTitleX: 625, yTitleY: 231, vtg: '<i>V</i><sub>tg</sub> = \u221210.0 V', vtgY: 167, ec: 116, ef: 221, ev: 260, legY: 325 });
densityPanel({ l: 676.3, r: 1150.7, t: 520.7, b: 888.3 }, b2Al, b2SioUp, b2SioLow, b2Levels,
  { titleY: 932, yTitleX: 625, yTitleY: 698, vtg: '<i>V</i><sub>tg</sub> = \u22123.0 V', vtgY: 642, ec: 703, ef: 723, ev: 851, legY: 799 });
densityPanel({ l: 676.5, r: 1150.3, t: 988.7, b: 1356.3 }, b3Al, b3SioUp, b3SioLow, b3Levels,
  { titleY: 1400, yTitleX: 625, yTitleY: 1175, vtg: '<i>V</i><sub>tg</sub> = 14.0 V', vtgY: 1109, ec: 1179, ef: 1199, ev: 1322, legY: 1267 });

// (c) trap level against gate voltage
plot({ l: 1324.7, r: 1701, t: 15.7, b: 263.3 },
  { min: -4, max: 14, major: voltageMajor, minor: voltageMinor, label: plainLabel(0) },
  { min: -0.05, max: 0.8, major: trapMajor, minor: trapMinor, label: plainLabel(1) },
  { gapX: 4, gapY: 6, size: 30, len: 8, minorLen: 4 }, [
    { data: zip(tcadVoltage, tcadLevel), borderColor: INK, borderWidth: 3.6, pointRadius: 0, fill: false, tension: 0.3 },
    { data: zip(fitVoltage, fitLevel), borderColor: '#ed2024', borderWidth: 3.6, pointRadius: 0, fill: false },
  ]);
rect(1344, 37.5, 63, 3, 'background:' + INK);
rect(1344, 72.5, 63, 3, 'background:#ed2024');
text('TCAD extraction', 1416, 40, { size: 28 });
text('linear fitting', 1416, 75, { size: 28 });
text('Trap Level [eV]', 1245, 140, { size: 32, bold: true, anchor: 'c', rotate: -90 });
text('Top Gate Voltage [V]', 1520, 310, { size: 31, bold: true, anchor: 'c' });

// (d) spectra for every measurement frequency
function spectrumColor(t) {
  const stops = [[12, 108, 181], [74, 74, 94], [238, 32, 36]];
  const a = t < 0.5 ? stops[0] : stops[1], b = t < 0.5 ? stops[1] : stops[2];
  const k = t < 0.5 ? t * 2 : t * 2 - 1;
  return `rgb(${a.map((c, i) => Math.round(c + (b[i] - c) * k)).join(',')})`;
}
const curveCount = spectraRows[0].length;
const spectraSets = [];
for (let c = curveCount - 1; c >= 0; c--) {
  spectraSets.push({
    data: spectraRows.map((row, r) => ({ x: row[c], y: spectraEnergy[r] })),
    borderColor: spectrumColor(c / (curveCount - 1)), borderWidth: 2.4, pointRadius: 0, fill: false, tension: 0.35,
  });
}
const arrowSet = (data, rotation) => ({
  data: pts(data), borderColor: INK, borderWidth: 2.4, fill: false,
  pointStyle: 'triangle', pointRadius: [0, 9], pointRotation: [0, rotation], pointBackgroundColor: INK, pointBorderColor: INK,
});
plot({ l: 1324.7, r: 1701, t: 340.3, b: 1012.3 },
  { min: -2.197, max: 0, reverse: true, major: spectraXMajor, minor: spectraXMinor, label: plainLabel(0) },
  { min: 0, max: 0.7525, major: spectraYMajor, minor: spectraYMinor, label: plainLabel(1) },
  { gapX: 4, gapY: 14, size: 28, len: 8, minorLen: 5 }, [
    ...spectraSets,
    line(levelU, INK, 2, { borderDash: [14, 9] }),
    line(levelM, INK, 2, { borderDash: [14, 9] }),
    line(levelL, INK, 2, { borderDash: [14, 9] }),
    arrowSet(arrowTop, 264),
    arrowSet(arrowBottom, 108),
  ]);
rect(1334, 577, 36, 2.5, 'background:#0c6cb5');
rect(1334, 621, 36, 2.5, 'background:#ee2024');
text('<i>f</i> &nbsp;= 10Hz', 1380, 578, { size: 29 });
text('<i>f</i> &nbsp;= 1\u00d710<sup>-3</sup>Hz', 1380, 622, { size: 29 });
text('<i>T</i>=27<sup>o</sup>C', 1335, 668, { size: 29 });
text('U', 1390, 429, { size: 43, bold: true });
text('M', 1528, 582, { size: 43, bold: true });
text('L', 1352, 831, { size: 43, bold: true });
text('<i>f</i> \u2193', 1443, 387, { size: 34 });
text('<i>f</i> \u2193', 1586, 917, { size: 34 });
text('Electronic Energy [eV]', 1238, 696, { size: 29, bold: true, anchor: 'c', rotate: -90 });
text('Trap Density [10<sup>20</sup> cm<sup>-3</sup>/eV]', 1503, 1065, { size: 30, bold: true, anchor: 'c' });

// (e) capture time at the three marked levels
const timeChart = plot({ l: 1321.7, r: 1702.3, t: 1100, b: 1349 },
  { type: 'logarithmic', min: 0.0794, max: 1995, major: timeDecades, minor: timeMinor },
  { min: -2.2, max: 0, reverse: true, major: dotMajor, minor: dotMinor, label: plainLabel(0) },
  { gapX: 4, gapY: 8, size: 28, len: 8, minorLen: 4, leftColor: '#8f8a55', leftWidth: 2 }, [
    { data: zip(captureTime, dotM), borderColor: '#4b4d78', borderWidth: 2.8, pointRadius: 0, fill: false, tension: 0.15 },
    { data: zip(captureTime, dotU), borderColor: INK, borderWidth: 2.6, pointRadius: 0, fill: false, tension: 0.15 },
    { data: zip(captureTime, dotL), borderColor: '#ed2024', borderWidth: 2.6, pointRadius: 0, fill: false, tension: 0.15 },
  ]);
const decadeNames = ['-1', '0', '1', '2', '3'];
timeDecades.forEach((v, i) => {
  text(`10<sup>${decadeNames[i]}</sup>`, timeChart.scales.x.getPixelForValue(v), 1377, { size: 30, anchor: 'c' });
});
text('U', 1340, 1174, { size: 37, bold: true });
text('M', 1609, 1127, { size: 37, bold: true, color: '#2e3192' });
text('L', 1365, 1268, { size: 37, bold: true, color: '#ed2024' });
text('<i>D</i><sub>ot</sub> [10<sup>20</sup> cm<sup>-3</sup>/eV]', 1263, 1225, { size: 30, bold: true, anchor: 'c', rotate: -90 });
text('Capture Time [s]', 1499, 1410, { size: 31, bold: true, anchor: 'c' });

// panel letters and the boxes around (a) and (b)
text('(a)', 5, 1405, { size: 44 });
text('(b)', 604, 1405, { size: 44 });
text('(c)', 1203, 305, { size: 44 });
text('(d)', 1201, 1058, { size: 44 });
text('(e)', 1201, 1405, { size: 44 });
const frameA = document.createElement('div');
frameA.className = 'frame';
frameA.style.cssText = 'left:2px;top:6px;width:597px;height:1426px;';
page.appendChild(frameA);
const frameB = document.createElement('div');
frameB.className = 'frame';
frameB.style.cssText = 'left:598px;top:6px;width:596px;height:1426px;';
page.appendChild(frameB);
</script>
</body>
</html>
